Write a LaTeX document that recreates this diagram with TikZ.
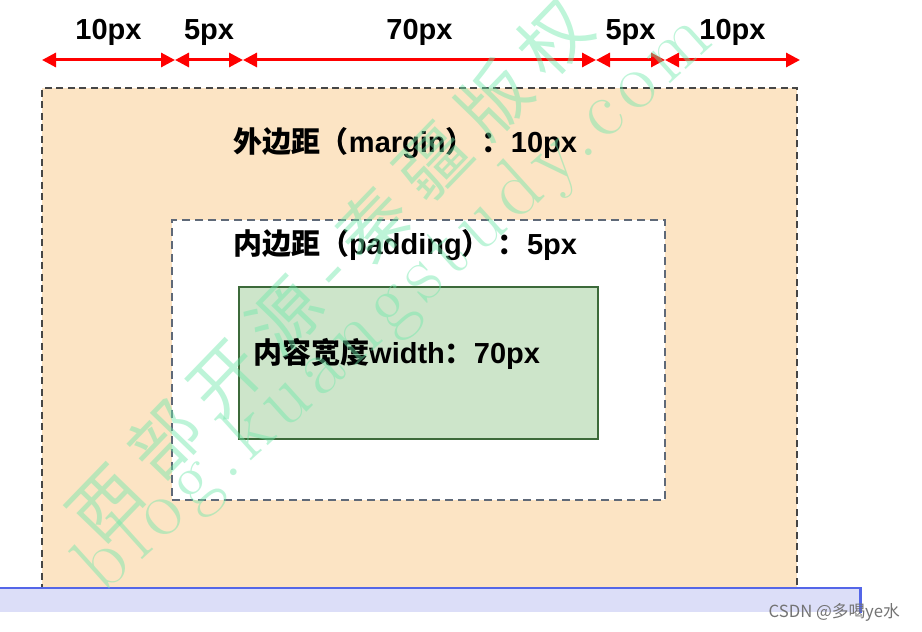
\documentclass[tikz,border=0pt]{standalone}
\usepackage{fontspec}
\newfontfamily\lblfont{Liberation Sans}
\newfontfamily\cjk{Noto Sans CJK SC}
\newfontfamily\wmcjk{Noto Sans CJK SC}[LetterSpace=23]
\newfontfamily\wmserif{Latin Modern Roman}[LetterSpace=10]
\usetikzlibrary{arrows.meta, positioning}
\definecolor{marginfill}{RGB}{252,228,196}
\definecolor{marginline}{RGB}{70,70,70}
\definecolor{paddingline}{RGB}{95,105,120}
\definecolor{contentfill}{RGB}{205,229,202}
\definecolor{contentline}{RGB}{60,106,58}
\definecolor{barfill}{RGB}{220,222,248}
\definecolor{barline}{RGB}{84,102,232}
\definecolor{wmgreen}{RGB}{110,232,170}

\begin{document}
\begin{tikzpicture}[
        x=0.2mm, y=-0.2mm,
        lbl/.style={font=\lblfont\fontsize{16.5}{19}\selectfont\bfseries},
        dimlbl/.style={text=black, font=\lblfont\fontsize{16.5}{19}\selectfont\bfseries, above=1.5mm},
        dimarrow/.style={red, line width=0.6mm, {Triangle[length=2.8mm,width=2.8mm]}-{Triangle[length=2.8mm,width=2.8mm]}},
        marginbox/.style={rectangle, draw=marginline, fill=marginfill, line width=0.5mm, dash pattern=on 1.4mm off 0.9mm},
        paddingbox/.style={rectangle, draw=paddingline, fill=white, line width=0.4mm, dash pattern=on 1.6mm off 1mm},
        contentbox/.style={rectangle, draw=contentline, fill=contentfill, line width=0.4mm},
        barbox/.style={rectangle, fill=barfill, inner sep=0pt},
        wmark/.style={text=wmgreen, text opacity=0.45}
    ]
        \useasboundingbox (0,0) rectangle (922,632);

        % Boxes: margin, padding, content
        \node (outer) [marginbox, minimum width=151mm, minimum height=102.4mm] at (419.5,344) {};
        \node (inner) [paddingbox, minimum width=98.6mm, minimum height=56mm] at (418.5,360) {};
        \node (content) [contentbox, minimum width=71.8mm, minimum height=30.4mm] at (418.5,363) {};

        % Box labels
        \node (marginlbl) [lbl, below=7mm of outer.north, xshift=-2.9mm] {{\cjk 外边距（}margin{\cjk ）\hspace{0.25em}：}10px};
        \node (paddinglbl) [lbl, below=0.8mm of inner.north, xshift=-2.7mm] {{\cjk 内边距（}padding{\cjk ）\hspace{0.25em}：}5px};
        \node (widthlbl) [lbl, right=1.8mm of content.west, yshift=1.8mm] {{\cjk 内容宽度}width{\cjk ：}70px};

        % Dimension line
        \coordinate (d0) at (42,60);
        \coordinate (d1) at (175,60);
        \coordinate (d2) at (243,60);
        \coordinate (d3) at (596,60);
        \coordinate (d4) at (665,60);
        \coordinate (d5) at (800,60);
        \draw [dimarrow] (d0) -- node[dimlbl] {10px} (d1);
        \draw [dimarrow] (d1) -- node[dimlbl] {5px} (d2);
        \draw [dimarrow] (d2) -- node[dimlbl] {70px} (d3);
        \draw [dimarrow] (d3) -- node[dimlbl] {5px} (d4);
        \draw [dimarrow] (d4) -- node[dimlbl] {10px} (d5);

        % Bottom bar
        \node (bar) [barbox, minimum width=172mm, minimum height=4.8mm, anchor=north west] at (0,588) {};
        \draw [barline, line width=0.5mm] (bar.north west) -- (bar.north east) -- (bar.south east);

        % Watermarks
        \node (wmcn) [wmark, rotate=46, font=\wmcjk\fontsize{40}{44}\selectfont] at (329,270) {西部开源-秦疆版权};
        \node (wmen) [wmark, rotate=42, font=\wmserif\fontsize{46}{50}\selectfont] at (396,304) {blog.kuangstudy.com};
        \node (csdn) [text=black!55, font=\cjk\fontsize{9.5}{11}\selectfont, anchor=east] at (906,612) {CSDN @多喝ye水};

    \end{tikzpicture}
\end{document}
